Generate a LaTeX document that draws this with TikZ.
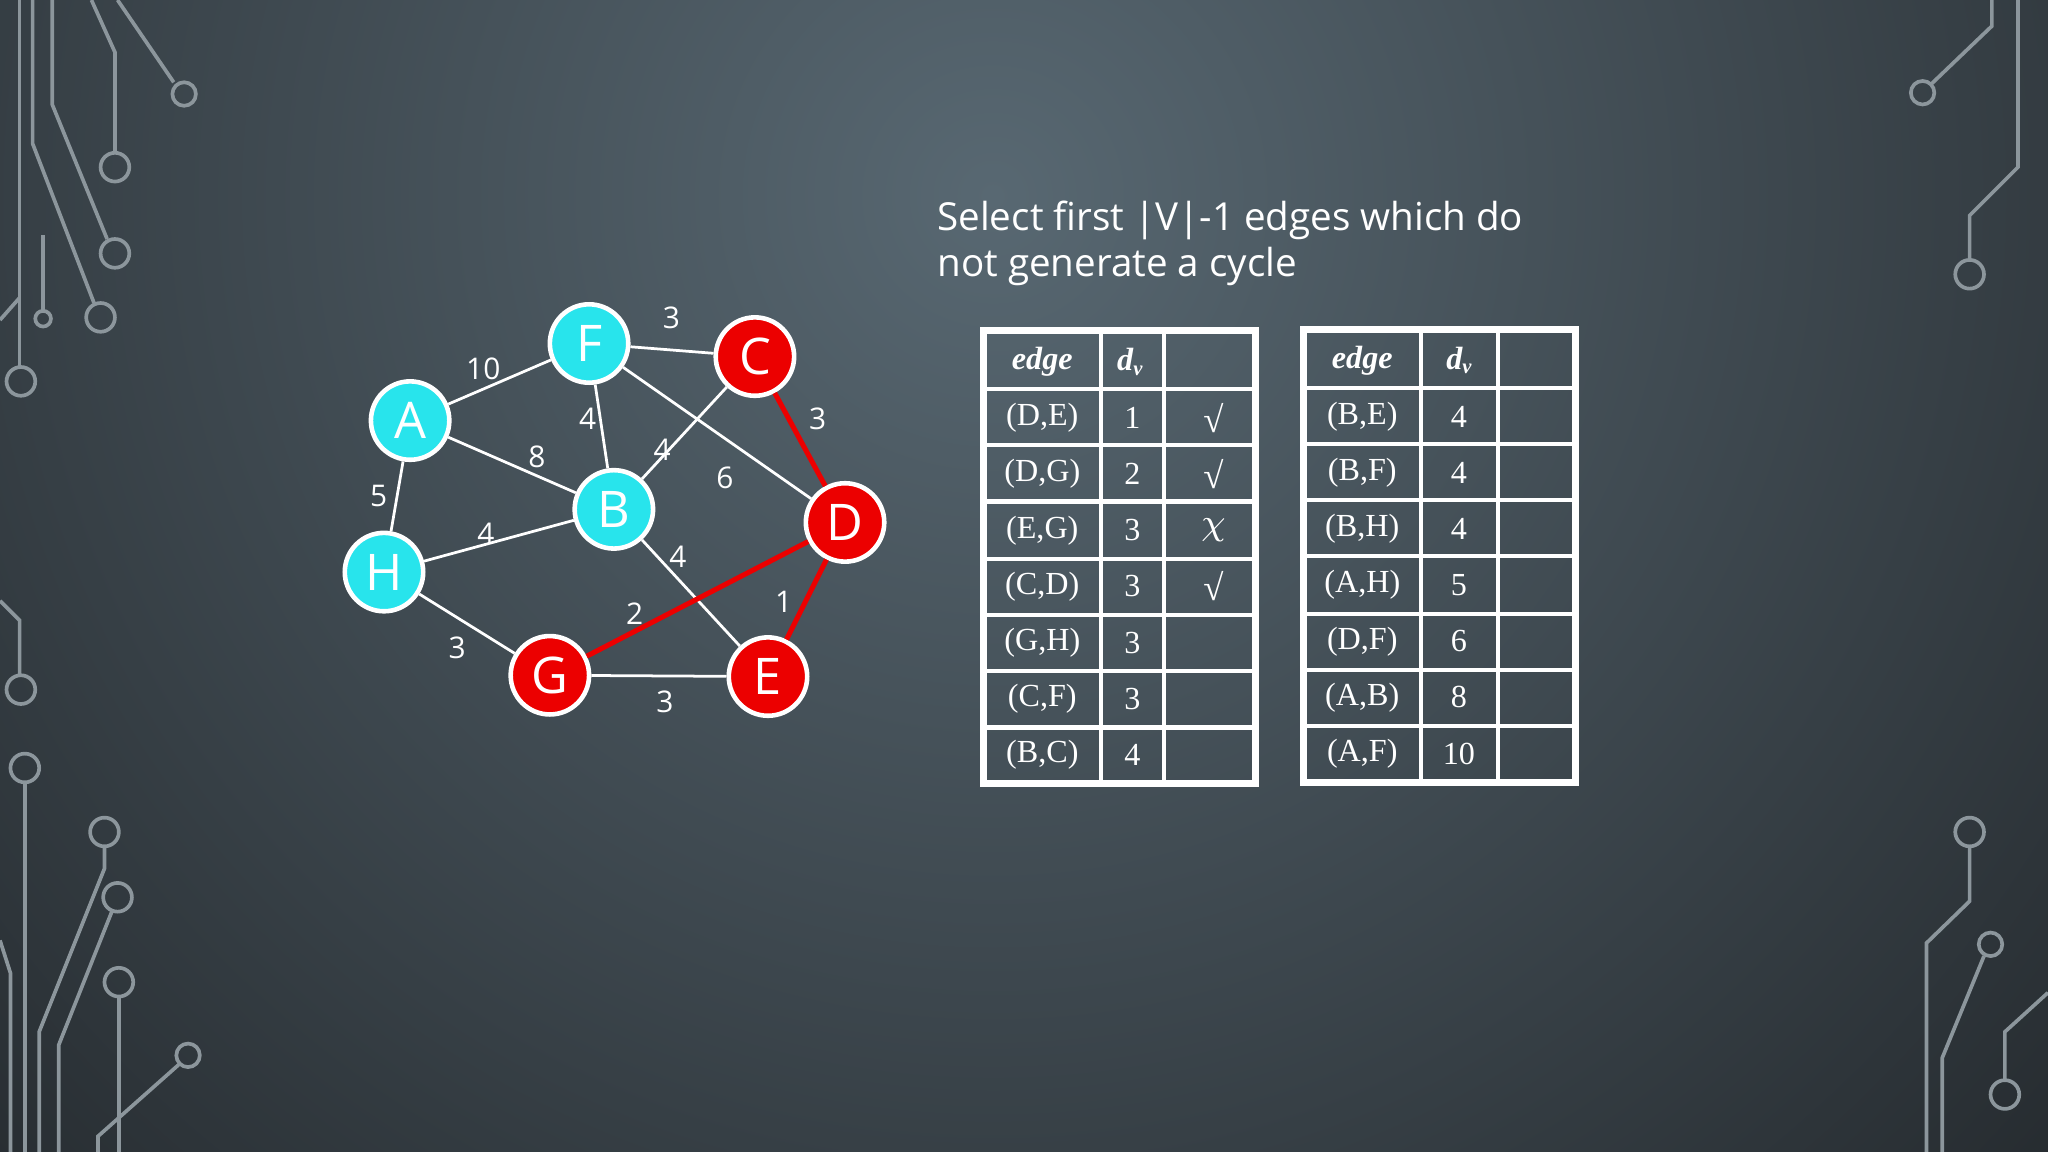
\documentclass[tikz,border=0pt]{standalone}
\usepackage{fontspec}
\setmainfont{Liberation Serif}
\newfontfamily\osans{Open Sans}
\definecolor{nodecyan}{RGB}{40,228,236}
\definecolor{nodered}{RGB}{236,0,0}
\definecolor{circ}{RGB}{140,150,156}
\begin{document}
\begin{tikzpicture}[x=0.01cm,y=-0.01cm,
  cyannode/.style={circle,draw=white,line width=1pt,fill=nodecyan,minimum size=0.6cm,inner sep=0pt,text=white,font=\osans\fontsize{11}{12}\selectfont},
  rednode/.style={circle,draw=white,line width=1pt,fill=nodered,minimum size=0.6cm,inner sep=0pt,text=white,font=\osans\fontsize{11}{12}\selectfont},
  edgeline/.style={white,line width=0.6pt},
  rededge/.style={nodered,line width=1.1pt},
  wlabel/.style={text=white,font=\osans\fontsize{6.5}{7}\selectfont,inner sep=0pt},
  tcell/.style={text=white,font=\fontsize{7}{8}\selectfont,inner sep=0pt},
  thead/.style={text=white,font=\bfseries\itshape\fontsize{7}{8}\selectfont,inner sep=0pt},
  circuit/.style={draw=circ,line width=0.8pt},
  tline/.style={white,line width=0.9pt},
  tborder/.style={white,line width=1.5pt}]
\useasboundingbox (0,0) rectangle (1568,882);
\begin{scope}
\clip (0,0) rectangle (1568,882);
\shade[inner color={rgb,255:red,88;green,104;blue,114},outer color={rgb,255:red,36;green,41;blue,45}] (760,150) circle (1150);
% circuits left top
\draw[circuit] (90,0)--(133,63); \draw[circuit] (141,72) circle (9);
\draw[circuit] (70,0)--(88,40)--(88,117); \draw[circuit] (88,128) circle (11);
\draw[circuit] (40,0)--(40,80)--(82,183); \draw[circuit] (88,194) circle (11);
\draw[circuit] (25,0)--(25,110)--(72,232); \draw[circuit] (77,243) circle (11);
\draw[circuit] (15,0)--(15,281); \draw[circuit] (16,292) circle (11);
\draw[circuit] (33,180)--(33,238); \draw[circuit] (33,244) circle (6);
\draw[circuit] (0,245)--(15,228);
% left bottom
\draw[circuit] (0,460)--(15,475)--(15,517); \draw[circuit] (16,528) circle (11);
\draw[circuit] (19,599)--(19,882); \draw[circuit] (19,588) circle (11);
\draw[circuit] (80,648)--(80,665)--(30,790)--(30,882); \draw[circuit] (80,637) circle (11);
\draw[circuit] (86,697)--(45,800)--(45,882); \draw[circuit] (90,687) circle (11);
\draw[circuit] (91,763)--(91,882); \draw[circuit] (91,752) circle (11);
\draw[circuit] (137,815)--(75,870)--(75,882); \draw[circuit] (144,808) circle (9);
\draw[circuit] (0,720)--(8,745)--(8,882);
% right top
\draw[circuit] (1479,64)--(1525,20)--(1525,0); \draw[circuit] (1472,71) circle (9);
\draw[circuit] (1508,199)--(1508,165)--(1545,128)--(1545,0); \draw[circuit] (1508,210) circle (11);
% right bottom
\draw[circuit] (1508,648)--(1508,690)--(1475,722)--(1475,882); \draw[circuit] (1508,637) circle (11);
\draw[circuit] (1519,732)--(1487,810)--(1487,882); \draw[circuit] (1524,723) circle (9);
\draw[circuit] (1535,827)--(1535,790)--(1568,760); \draw[circuit] (1535,838) circle (11);
\end{scope}
% graph nodes
\node[cyannode] (F) at (451,263) {F};
\node[rednode] (C) at (578,273) {C};
\node[cyannode] (A) at (314,322) {A};
\node[cyannode] (B) at (470,390) {B};
\node[rednode] (D) at (647,400) {D};
\node[cyannode] (H) at (294,438) {H};
\node[rednode] (G) at (421,517) {G};
\node[rednode] (E) at (588,518) {E};
\draw[edgeline] (A)--(F); \draw[edgeline] (F)--(C); \draw[edgeline] (F)--(B);
\draw[edgeline] (F)--(D); \draw[edgeline] (C)--(B); \draw[edgeline] (A)--(B);
\draw[edgeline] (A)--(H); \draw[edgeline] (H)--(B); \draw[edgeline] (B)--(E);
\draw[edgeline] (H)--(G); \draw[edgeline] (G)--(E);
\draw[rededge] (C)--(D); \draw[rededge] (G)--(D); \draw[rededge] (D)--(E);
\node[wlabel] at (370,282) {10};
\node[wlabel] at (514,243) {3};
\node[wlabel] at (450,321) {4};
\node[wlabel] at (555,366) {6};
\node[wlabel] at (507,344) {4};
\node[wlabel] at (626,321) {3};
\node[wlabel] at (411,350) {8};
\node[wlabel] at (290,380) {5};
\node[wlabel] at (372,409) {4};
\node[wlabel] at (519,426) {4};
\node[wlabel] at (486,470) {2};
\node[wlabel] at (600,461) {1};
\node[wlabel] at (350,496) {3};
\node[wlabel] at (509,537) {3};
% heading
\node[anchor=west,text=white,font=\osans\fontsize{8.4}{10}\selectfont,align=left,inner sep=0pt] (title) at (717,186) {Select first |V|-1 edges which do\\not generate a cycle};
% table 1
\foreach \y in {298,341,384,428,471,514,557} \draw[tline] (753,\y)--(961,\y);
\draw[tline] (843,253)--(843,600); \draw[tline] (891,253)--(891,600);
\draw[tborder] (753,253) rectangle (961,600);
\node[thead] at (798,277) {edge};
\node[thead] at (865,277) {d\raisebox{-0.3ex}{\fontsize{4.5}{5}\selectfont v}};
\foreach \e/\d/\m [count=\i] in {{(D,E)}/1/{\fontsize{8}{9}\selectfont √},{(D,G)}/2/{\fontsize{8}{9}\selectfont √},{(E,G)}/3/{\fontsize{8}{9}\selectfont $\chi$},{(C,D)}/3/{\fontsize{8}{9}\selectfont √},{(G,H)}/3/{},{(C,F)}/3/{},{(B,C)}/4/{}} {
  \node[tcell] at (798,277+43*\i) {\e};
  \node[tcell] at (867,277+43*\i) {\d};
  \node[tcell] at (929,277+43*\i) {\m};
}
% table 2
\foreach \y in {297,340,383,426,470,513,556} \draw[tline] (998,\y)--(1206,\y);
\draw[tline] (1088,252)--(1088,599); \draw[tline] (1147,252)--(1147,599);
\draw[tborder] (998,252) rectangle (1206,599);
\node[thead] at (1043,276) {edge};
\node[thead] at (1117,276) {d\raisebox{-0.3ex}{\fontsize{4.5}{5}\selectfont v}};
\foreach \e/\d [count=\i] in {{(B,E)}/4,{(B,F)}/4,{(B,H)}/4,{(A,H)}/5,{(D,F)}/6,{(A,B)}/8,{(A,F)}/10} {
  \node[tcell] at (1043,276+43*\i) {\e};
  \node[tcell] at (1117,276+43*\i) {\d};
}
\end{tikzpicture}
\end{document}
